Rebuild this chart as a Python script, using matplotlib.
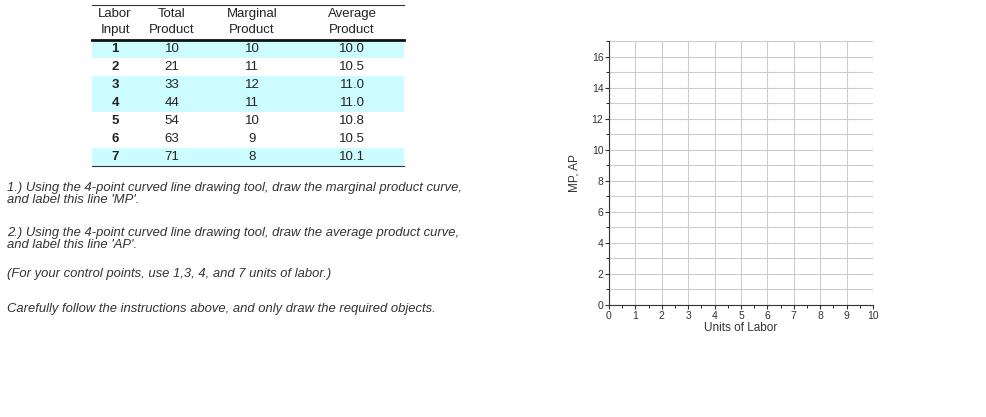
import numpy as np
import matplotlib
matplotlib.use("Agg")
import matplotlib.pyplot as plt
from matplotlib.patches import Rectangle

W, H = 986, 417

labor = [1, 2, 3, 4, 5, 6, 7]
total_product = [10, 21, 33, 44, 54, 63, 71]
marginal_product = [10, 11, 12, 11, 10, 9, 8]
average_product = ["10.0", "10.5", "11.0", "11.0", "10.8", "10.5", "10.1"]
shaded_rows = [1, 3, 4, 7]

instructions = [
    (182, "1.) Using the 4-point curved line drawing tool, draw the marginal product curve,\nand label this line 'MP'."),
    (227, "2.) Using the 4-point curved line drawing tool, draw the average product curve,\nand label this line 'AP'."),
    (268, "(For your control points, use 1,3, 4, and 7 units of labor.)"),
    (303, "Carefully follow the instructions above, and only draw the required objects."),
]

plt.rcParams["font.family"] = ["Liberation Sans", "DejaVu Sans"]
fig = plt.figure(figsize=(W / 100, H / 100), dpi=100)


def fx(px):
    return px / W


def fy(py):
    return 1 - py / H


# table
tx0, tx1 = 92, 404
col_x = [115, 172, 252, 352]
row_top, row_h = 40.5, 17.9
heads = [("Labor", "Input"), ("Total", "Product"), ("Marginal", "Product"), ("Average", "Product")]
for cx, (a, b) in zip(col_x, heads):
    fig.text(fx(cx), fy(14), a, ha="center", va="center", fontsize=9.5, color="#222")
    fig.text(fx(cx), fy(30), b, ha="center", va="center", fontsize=9.5, color="#222")
fig.add_artist(plt.Line2D([fx(tx0), fx(tx1)], [fy(5), fy(5)], color="#333", lw=0.8))
for i, lab in enumerate(labor):
    yt = row_top + i * row_h
    if lab in shaded_rows:
        fig.add_artist(Rectangle((fx(tx0), fy(yt + row_h)), fx(tx1) - fx(tx0), row_h / H,
                                 color="#ccfcff", lw=0))
    yc = yt + row_h / 2
    vals = [str(lab), str(total_product[i]), str(marginal_product[i]), average_product[i]]
    for j, (cx, v) in enumerate(zip(col_x, vals)):
        fig.text(fx(cx), fy(yc), v, ha="center", va="center", fontsize=9.5,
                 color="#222", fontweight="bold" if j == 0 else "normal")
fig.add_artist(plt.Line2D([fx(tx0), fx(tx1)], [fy(40), fy(40)], color="#111", lw=2))
yb = row_top + 7 * row_h
fig.add_artist(plt.Line2D([fx(tx0), fx(tx1)], [fy(yb), fy(yb)], color="#333", lw=0.8))

for py, txt in instructions:
    fig.text(fx(7), fy(py), txt, ha="left", va="top", fontsize=9.4,
             style="italic", color="#333", linespacing=1.0)

# graph
ax = fig.add_axes([fx(609), fy(305), fx(873) - fx(609), (305 - 41) / H])
ax.set_xlim(0, 10)
ax.set_ylim(0, 17)
ax.set_xticks(range(0, 11))
ax.set_yticks(range(0, 17, 2))
ax.set_yticks(range(0, 18), minor=True)
ax.set_xticks(np.arange(0, 10.5, 0.5), minor=True)
ax.grid(True, which="major", color="#cccccc", lw=0.8)
ax.grid(True, which="minor", axis="y", color="#cccccc", lw=0.8)
for s in ["top", "right"]:
    ax.spines[s].set_visible(False)
for s in ["left", "bottom"]:
    ax.spines[s].set_color("#333")
ax.tick_params(labelsize=7.5, colors="#333", length=3, pad=1)
ax.tick_params(which="minor", length=2)
ax.set_xlabel("Units of Labor", fontsize=8.5, color="#333", labelpad=1)
ax.set_ylabel("MP, AP", fontsize=8.5, color="#333", labelpad=8)

fig.savefig("out.png", dpi=100)
